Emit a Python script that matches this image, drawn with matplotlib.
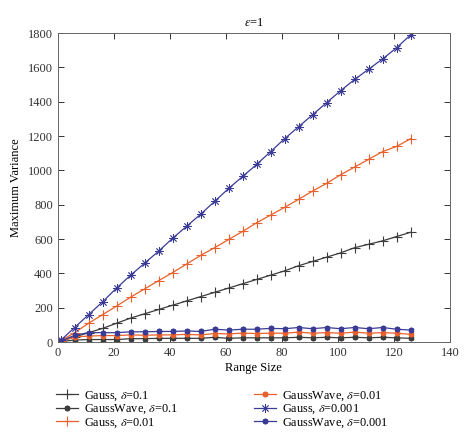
import numpy as np
import matplotlib
matplotlib.use("Agg")
import matplotlib.pyplot as plt

plt.rcParams['font.family'] = ['Liberation Serif', 'DejaVu Serif']
plt.rcParams['mathtext.fontset'] = 'stix'

range_size = np.arange(1, 127, 5)

gauss_01 = [5, 30, 55, 80, 110, 140, 165, 190, 215, 240, 265, 290, 315, 340, 365,
            390, 415, 445, 470, 495, 520, 550, 570, 590, 615, 640]
wave_01 = [3, 12, 15, 15, 15, 20, 20, 22, 22, 22, 22, 28, 22, 25, 25,
           25, 25, 28, 25, 28, 25, 28, 25, 28, 25, 22]
gauss_001 = [8, 55, 110, 160, 210, 262, 310, 358, 405, 455, 505, 550, 598, 645, 695,
             740, 785, 832, 880, 925, 975, 1020, 1065, 1110, 1140, 1185]
wave_001 = [5, 30, 35, 38, 38, 42, 40, 42, 42, 45, 42, 50, 48, 52, 50,
            52, 52, 58, 52, 55, 52, 58, 52, 55, 52, 45]
gauss_0001 = [10, 85, 160, 235, 315, 390, 460, 530, 605, 675, 745, 820, 895, 965, 1035,
              1110, 1185, 1255, 1325, 1395, 1465, 1530, 1590, 1650, 1715, 1790]
wave_0001 = [5, 40, 55, 55, 55, 60, 60, 62, 62, 65, 62, 75, 70, 75, 75,
             80, 78, 85, 78, 85, 78, 85, 78, 85, 75, 70]

labels = ['Gauss, $\\delta$=0.1', 'GaussWave, $\\delta$=0.1', 'Gauss, $\\delta$=0.01',
          'GaussWave, $\\delta$=0.01', 'Gauss, $\\delta$=0.001', 'GaussWave, $\\delta$=0.001']

black = '#3c3c3c'
orange = '#e8602c'
blue = '#3b3b96'
asterisk = (6, 2, 0)

fig = plt.figure(figsize=(4.74, 4.42), dpi=100)
ax = fig.add_axes([0.122, 0.226, 0.827, 0.699])

ax.plot(range_size, gauss_01, color=black, lw=0.9, marker='+', ms=7, mew=0.8, label=labels[0])
ax.plot(range_size, wave_01, color=black, lw=0.9, marker=asterisk, ms=4, mew=1.4, label=labels[1])
ax.plot(range_size, gauss_001, color=orange, lw=0.9, marker='+', ms=7, mew=0.8, label=labels[2])
ax.plot(range_size, wave_001, color=orange, lw=0.9, marker=asterisk, ms=4, mew=1.4, label=labels[3])
ax.plot(range_size, gauss_0001, color=blue, lw=0.9, marker=(8, 2, 0), ms=6, mew=0.6, label=labels[4])
ax.plot(range_size, wave_0001, color=blue, lw=0.9, marker=asterisk, ms=4, mew=1.4, label=labels[5])

ax.set_xlim(0, 140)
ax.set_ylim(0, 1800)
ax.set_xticks(range(0, 141, 20))
ax.set_yticks(range(0, 1801, 200))
ax.tick_params(direction='in', top=True, right=True, labelsize=9, colors='#333333', length=4, width=0.7)
for sp in ax.spines.values():
    sp.set_color('#666666')
    sp.set_linewidth(0.7)

ax.set_title('$\\varepsilon$=1', fontsize=9, pad=5)
ax.set_xlabel('Range Size', fontsize=9, labelpad=2)
ax.set_ylabel('Maximum Variance', fontsize=9, labelpad=4)

handles, leg_labels = ax.get_legend_handles_labels()
fig.legend(handles, leg_labels,
           loc='upper left', bbox_to_anchor=(0.1, 0.139), ncol=2, frameon=False,
           fontsize=8.8, handlelength=1.8, columnspacing=6.2, labelspacing=0.0,
           handletextpad=0.5, borderpad=0.2)

fig.savefig('out.png', dpi=100)
